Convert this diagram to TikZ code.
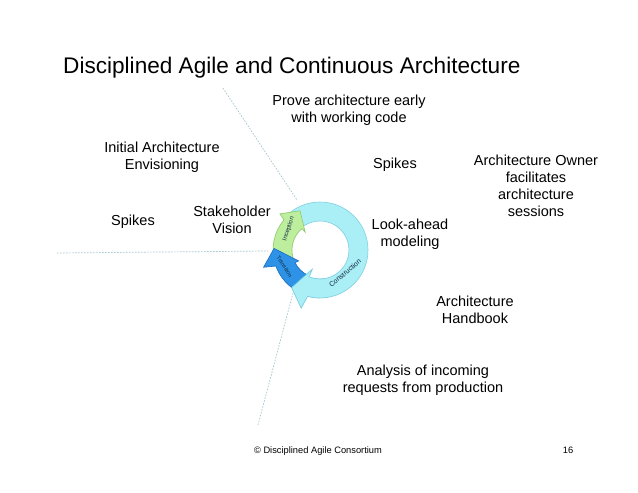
\documentclass[tikz,border=0pt]{standalone}
\usepackage{fontspec}
\setmainfont{Liberation Sans}
\definecolor{cyanfill}{HTML}{AAEEF6}
\definecolor{cyanedge}{HTML}{80D0E2}
\definecolor{greenfill}{HTML}{BDEE9E}
\definecolor{greenedge}{HTML}{8CC86C}
\definecolor{bluefill}{HTML}{2E92E6}
\definecolor{blueedge}{HTML}{1B6CC0}
\definecolor{sepcol}{HTML}{A6C6CE}
\definecolor{arrtext}{HTML}{0E2A40}
\begin{document}
\begin{tikzpicture}[x=1pt,y=-1pt,
  lbl/.style={font=\fontsize{14.5}{17}\selectfont, align=center, inner sep=0pt},
  small/.style={font=\fontsize{9.3}{11}\selectfont, inner sep=0pt, anchor=base},
  sepline/.style={draw=sepcol, line width=0.7pt, dash pattern=on 1.6pt off 1.4pt},
  arrlbl/.style={text=arrtext, inner sep=0pt}]
\useasboundingbox (0,0) rectangle (638,493);
\fill[white] (0,0) rectangle (638,493);

% separators
\coordinate (s1a) at (223,88);  \coordinate (s1b) at (297,200);
\coordinate (s2a) at (57,253);  \coordinate (s2b) at (268,251);
\coordinate (s3a) at (293,293); \coordinate (s3b) at (258,425);
\draw[sepline] (s1a) -- (s1b);
\draw[sepline] (s2a) -- (s2b);
\draw[sepline] (s3a) -- (s3b);

% cycle
\begin{scope}[shift={(320,250)}]
  % Construction (cyan)
  \filldraw[fill=cyanfill, draw=cyanedge, line width=0.6pt]
    (230:48) arc[start angle=230, end angle=465, radius=48]
    -- (468:61) -- (487:47) -- (472:21) -- (472:29)
    arc[start angle=472, end angle=230, radius=29] -- cycle;
  % Inception (green)
  \filldraw[fill=greenfill, draw=greenedge, line width=0.6pt]
    (165:47) arc[start angle=165, end angle=220, radius=47]
    -- (222:54) -- (243:44) -- (230:23) -- (230:28)
    arc[start angle=230, end angle=165, radius=28] -- cycle;
  % Transition (blue)
  \filldraw[fill=bluefill, draw=blueedge, line width=0.6pt]
    (115:47) arc[start angle=115, end angle=160, radius=47]
    -- (163:59) -- (182:46) -- (153:24) -- (153:28)
    arc[start angle=153, end angle=115, radius=28] -- cycle;
  % Construction head on top
  \fill[cyanfill]
    (440:48) arc[start angle=440, end angle=465, radius=48]
    -- (468:61) -- (487:47) -- (472:21) -- (472:29)
    arc[start angle=472, end angle=440, radius=29] -- cycle;
  \draw[cyanedge, line width=0.6pt]
    (440:48) arc[start angle=440, end angle=465, radius=48]
    -- (468:61) -- (487:47) -- (472:21) -- (472:29)
    arc[start angle=472, end angle=440, radius=29];
\end{scope}
\node[arrlbl, font=\fontsize{6.2}{7}\selectfont, rotate=72] (inc) at (288.5,229) {Inception};
\node[arrlbl, font=\fontsize{5.5}{6}\selectfont, rotate=-57] (tra) at (284.5,266.5) {Transition};
\node[arrlbl, font=\fontsize{7}{8}\selectfont, rotate=40] (con) at (345,273) {Construction};

% texts
\node[anchor=base west, font=\fontsize{22.6}{26}\selectfont, inner sep=0pt] (title) at (63,73.5) {Disciplined Agile and Continuous Architecture};
\node[lbl] (prove) at (349,110.5) {Prove architecture early\\with working code};
\node[lbl] (init) at (162,157.5) {Initial Architecture\\Envisioning};
\node[lbl] (spikesL) at (133,221.5) {Spikes};
\node[lbl] (stake) at (232,219.5) {Stakeholder\\Vision};
\node[lbl] (spikesR) at (395,165) {Spikes};
\node[lbl] (owner) at (536,186) {Architecture Owner\\facilitates\\architecture\\sessions};
\node[lbl] (look) at (410,234) {Look-ahead\\modeling};
\node[lbl] (hand) at (475,309.5) {Architecture\\Handbook};
\node[lbl] (anal) at (423,380.5) {Analysis of incoming\\requests from production};
\node[small] (foot) at (318,453.3) {© Disciplined Agile Consortium};
\node[small] (page) at (568,453.3) {16};
\end{tikzpicture}
\end{document}
